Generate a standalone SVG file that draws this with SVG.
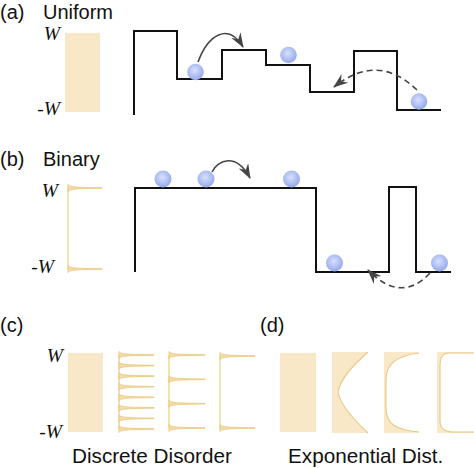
<svg xmlns="http://www.w3.org/2000/svg" width="474" height="468" viewBox="0 0 474 468">
<defs>
<radialGradient id="ball" cx="0.45" cy="0.4" r="0.6">
<stop offset="0" stop-color="#d8e0fb"/>
<stop offset="0.6" stop-color="#afbff2"/>
<stop offset="1" stop-color="#94a9e8"/>
</radialGradient>
<marker id="ah" viewBox="0 0 15 11" refX="14" refY="5.5" markerWidth="15" markerHeight="11" markerUnits="userSpaceOnUse" orient="auto">
<path d="M0,0 L15,5.5 L0,11 L5,5.5 Z" fill="#454545"/>
</marker>
</defs>
<style>
.lab{font-family:"Liberation Sans",Arial,sans-serif;font-size:20px;fill:#111}
.w{font-family:"Liberation Serif","Times New Roman",serif;font-style:italic;font-size:19.5px;fill:#111;text-anchor:end}
.pot{fill:none;stroke:#111;stroke-width:2}
.arr{fill:none;stroke:#454545;stroke-width:1.6}
.dash{stroke-dasharray:6 4}
.bg{fill:#f8e8c8}
.sp{fill:#f4dca8;stroke:#e8c67a;stroke-width:0.8}
.spine{stroke:#e8c67a;stroke-width:1.1;fill:none}
.crv{fill:none;stroke:#e8c984;stroke-width:1.1}
.b{fill:url(#ball)}
</style>

<g id="labels">
<text class="lab" x="0" y="19">(a)</text>
<text class="lab" x="43" y="19">Uniform</text>
<text class="lab" x="0" y="166">(b)</text>
<text class="lab" x="43" y="166">Binary</text>
<text class="lab" x="0" y="332">(c)</text>
<text class="lab" x="260" y="332">(d)</text>
<text class="lab" x="72" y="463" style="font-size:20.7px">Discrete Disorder</text>
<text class="lab" x="288" y="463" style="font-size:20.7px">Exponential Dist.</text>
<text class="w" x="60" y="40">W</text>
<text class="w" x="60" y="115">-W</text>
<text class="w" x="58" y="197">W</text>
<text class="w" x="54" y="273">-W</text>
<text class="w" x="63" y="362">W</text>
<text class="w" x="62" y="438">-W</text>
</g>

<g id="dist-a"><rect class="bg" x="65" y="33" width="35" height="79"/></g>

<g id="dist-b">
<line class="spine" x1="68" y1="188" x2="68" y2="269"/>
<path class="sp" d="M68,184.5 C70,187 74,187.4 102,187.7 L102,188.3 C74,188.6 70,189 68,191.5 Z"/>
<path class="sp" d="M68,265.5 C70,268 74,268.4 102,268.7 L102,269.3 C74,269.6 70,270 68,272.5 Z"/>
</g>

<g id="potential-a">
<path class="pot" d="M134,115 L134,31 L177,31 L177,79 L222,79 L222,50 L266,50 L266,65 L310,65 L310,92 L354,92 L354,51 L397,51 L397,110 L441,110"/>
</g>
<g id="potential-b">
<path class="pot" d="M135,272 L135,188 L316,188 L316,272 L389,272 L389,187 L416,187 L416,272 L451,272"/>
</g>

<g id="balls">
<circle class="b" cx="195.5" cy="72" r="8.3"/>
<circle class="b" cx="288.5" cy="55" r="8.3"/>
<circle class="b" cx="419" cy="101.5" r="8.3"/>
<circle class="b" cx="163" cy="179" r="8.5"/>
<circle class="b" cx="206" cy="179" r="8.5"/>
<circle class="b" cx="291.5" cy="179" r="8.5"/>
<circle class="b" cx="334.5" cy="263" r="8.5"/>
<circle class="b" cx="439.5" cy="263" r="8.5"/>
</g>

<g id="connectors">
<path class="arr" d="M198,62 C208,35 228,22 243,47" marker-end="url(#ah)"/>
<path class="arr dash" d="M417,90 Q378,52 334,87" marker-end="url(#ah)"/>
<path class="arr" d="M212,172 C218,160 236,152 250,178" marker-end="url(#ah)"/>
<path class="arr dash" d="M430,273 Q401,304 368,270" marker-end="url(#ah)"/>
</g>

<g id="dist-c1"><rect class="bg" x="68" y="353" width="35" height="79"/></g>

<g id="dist-c2">
<line class="spine" x1="119" y1="355" x2="119" y2="429"/>
<path class="sp" d="M119,351.5 C121,354 125,354.4 154,354.7 L154,355.3 C125,355.6 121,356 119,358.5 Z"/>
<path class="sp" d="M119,362.1 C121,364.6 125,365 154,365.3 L154,365.9 C125,366.2 121,366.6 119,369.1 Z"/>
<path class="sp" d="M119,372.6 C121,375.1 125,375.5 154,375.8 L154,376.4 C125,376.7 121,377.1 119,379.6 Z"/>
<path class="sp" d="M119,383.2 C121,385.7 125,386.1 154,386.4 L154,387 C125,387.3 121,387.7 119,390.2 Z"/>
<path class="sp" d="M119,393.8 C121,396.3 125,396.7 154,397 L154,397.6 C125,397.9 121,398.3 119,400.8 Z"/>
<path class="sp" d="M119,404.4 C121,406.9 125,407.3 154,407.6 L154,408.2 C125,408.5 121,408.9 119,411.4 Z"/>
<path class="sp" d="M119,414.9 C121,417.4 125,417.8 154,418.1 L154,418.7 C125,419 121,419.4 119,421.9 Z"/>
<path class="sp" d="M119,425.5 C121,428 125,428.4 154,428.7 L154,429.3 C125,429.6 121,430 119,432.5 Z"/>
</g>

<g id="dist-c3">
<line class="spine" x1="169" y1="355" x2="169" y2="428"/>
<path class="sp" d="M169,351.5 C171,354 175,354.4 205,354.7 L205,355.3 C175,355.6 171,356 169,358.5 Z"/>
<path class="sp" d="M169,375.8 C171,378.3 175,378.7 205,379 L205,379.6 C175,379.9 171,380.3 169,382.8 Z"/>
<path class="sp" d="M169,400.2 C171,402.7 175,403.1 205,403.4 L205,404 C175,404.3 171,404.7 169,407.2 Z"/>
<path class="sp" d="M169,424.5 C171,427 175,427.4 205,427.7 L205,428.3 C175,428.6 171,429 169,431.5 Z"/>
</g>

<g id="dist-c4">
<line class="spine" x1="220" y1="356" x2="220" y2="428"/>
<path class="sp" d="M220,352.5 C222,355 226,355.4 255,355.7 L255,356.3 C226,356.6 222,357 220,359.5 Z"/>
<path class="sp" d="M220,424.5 C222,427 226,427.4 255,427.7 L255,428.3 C226,428.6 222,429 220,431.5 Z"/>
</g>

<g id="dist-d1"><rect class="bg" x="280" y="353" width="36" height="79"/></g>
<g id="dist-d2">
<path class="bg" d="M332,352 L368,352 C352,366 340,380 338,392 C340,404 352,418 368,433 L332,433 Z"/>
<path class="crv" d="M368,352 C352,366 340,380 338,392 C340,404 352,418 368,433"/>
</g>
<g id="dist-d3">
<path class="bg" d="M384,352 L419,352 L419,353 C396,356 386,364 386,380 L386,408 C386,424 396,430 419,432 L419,433 L384,433 Z"/>
<path class="crv" d="M419,353 C396,356 386,364 386,380 L386,408 C386,424 396,430 419,432"/>
</g>
<g id="dist-d4">
<path class="bg" d="M437,352 L474,352 L474,353 L449,353 C442,353 440,358 440,366 L440,420 C440,428 443,431 452,432 L474,432 L474,433 L437,433 Z"/>
<path class="crv" d="M474,353 L449,353 C442,353 440,358 440,366 L440,420 C440,428 443,431 452,432 L474,432"/>
</g>
</svg>
